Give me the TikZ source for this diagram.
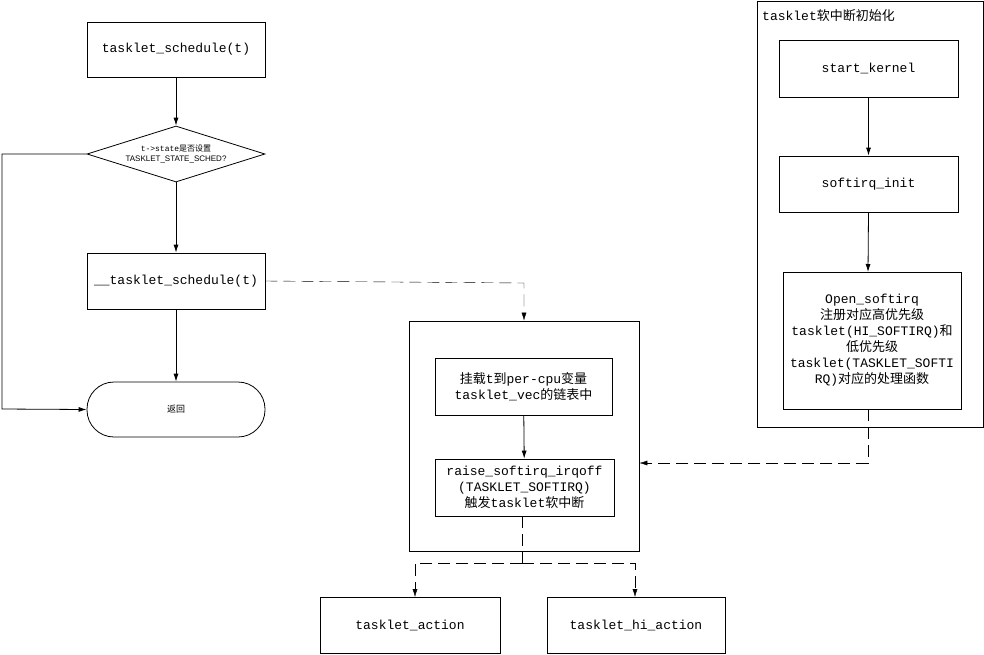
\documentclass[tikz,border=0pt]{standalone}
\usepackage{fontspec}
\setmainfont{Liberation Mono}
\newfontfamily\cjk{Noto Sans CJK SC}
\usetikzlibrary{arrows.meta,shapes.geometric}
\begin{document}
\begin{tikzpicture}[x=1pt,y=-1pt,
  box/.style={draw,thick,minimum width=#1,align=center,font=\fontsize{13}{16}\selectfont,inner sep=0pt},
  box/.default=178,
  arr/.style={-{Latex[length=8pt,width=5pt]}},
  darr/.style={-{Latex[length=8pt,width=5pt]},dash pattern=on 12pt off 6pt}]
\useasboundingbox (0,0) rectangle (984,654);
\node[box,minimum height=55] (s) at (176,49.5) {tasklet\_schedule(t)};
\node[draw,thick,diamond,aspect=3.2,minimum width=178,minimum height=56,inner sep=0pt,align=center,font=\fontsize{8}{10}\selectfont] (d) at (176,154) {t->state{\cjk 是否设置}\\ \fontspec{Liberation Sans}TASKLET\_STATE\_SCHED?};
\node[box,minimum height=56] (ts) at (176,281) {\_\_tasklet\_schedule(t)};
\node[draw,thick,rounded corners=27pt,minimum width=178,minimum height=55,inner sep=0pt,font=\fontsize{9}{11}\cjk] (r) at (176,409.5) {返回};
\draw[arr,thick] (s) -- (d);
\draw[arr,thick] (d) -- (ts);
\draw[arr,thick] (ts) -- (r);
\draw[arr,thick] (d.west) -- (2,154) -- (2,409) -- (r.west);
\node[draw,thick,minimum width=230,minimum height=230] (big) at (524,436) {};
\node[box,minimum width=177,minimum height=57] (m) at (523.5,386.5) {{\cjk 挂载}t{\cjk 到}per-cpu{\cjk 变量}\\tasklet\_vec{\cjk 的链表中}};
\node[box,minimum width=179,minimum height=57] (ra) at (524.5,487.5) {raise\_softirq\_irqoff\\(TASKLET\_SOFTIRQ)\\{\cjk 触发}tasklet{\cjk 软中断}};
\draw[arr,thick] (m) -- (ra);
\draw[darr] (ts.east) -- (524,283) -- (big.north);
\node[box,minimum width=180,minimum height=56] (ta) at (410,625) {tasklet\_action};
\node[box,minimum width=178,minimum height=56] (th) at (636,625) {tasklet\_hi\_action};
\coordinate (j) at (522,563);
\draw[dash pattern=on 12pt off 6pt] (ra.south -| j) -- (j);
\draw[darr] (j) -- (415,563) -- (415,597);
\draw[darr] (j) -- (635,563) -- (635,597);
\node[draw,thick,minimum width=226,minimum height=426] (rc) at (870,214) {};
\node[anchor=north west,font=\fontsize{13}{16}\selectfont,inner sep=0pt] (rt) at (762,9) {tasklet{\cjk 软中断初始化}};
\node[box,minimum width=179,minimum height=57] (sk) at (868.5,68.5) {start\_kernel};
\node[box,minimum width=179,minimum height=56] (si) at (868.5,184) {softirq\_init};
\node[box,minimum width=178,minimum height=137] (os) at (872,340.5) {Open\_softirq\\{\cjk 注册对应高优先级}\\tasklet(HI\_SOFTIRQ){\cjk 和}\\{\cjk 低优先级}\\tasklet(TASKLET\_SOFTI\\RQ){\cjk 对应的处理函数}};
\draw[arr,thick] (sk) -- (si);
\draw[arr,thick] (si.south) -- (868,272);
\draw[darr] (868,409) -- (868,463) -- (big.east |- 0,463);
\end{tikzpicture}
\end{document}
